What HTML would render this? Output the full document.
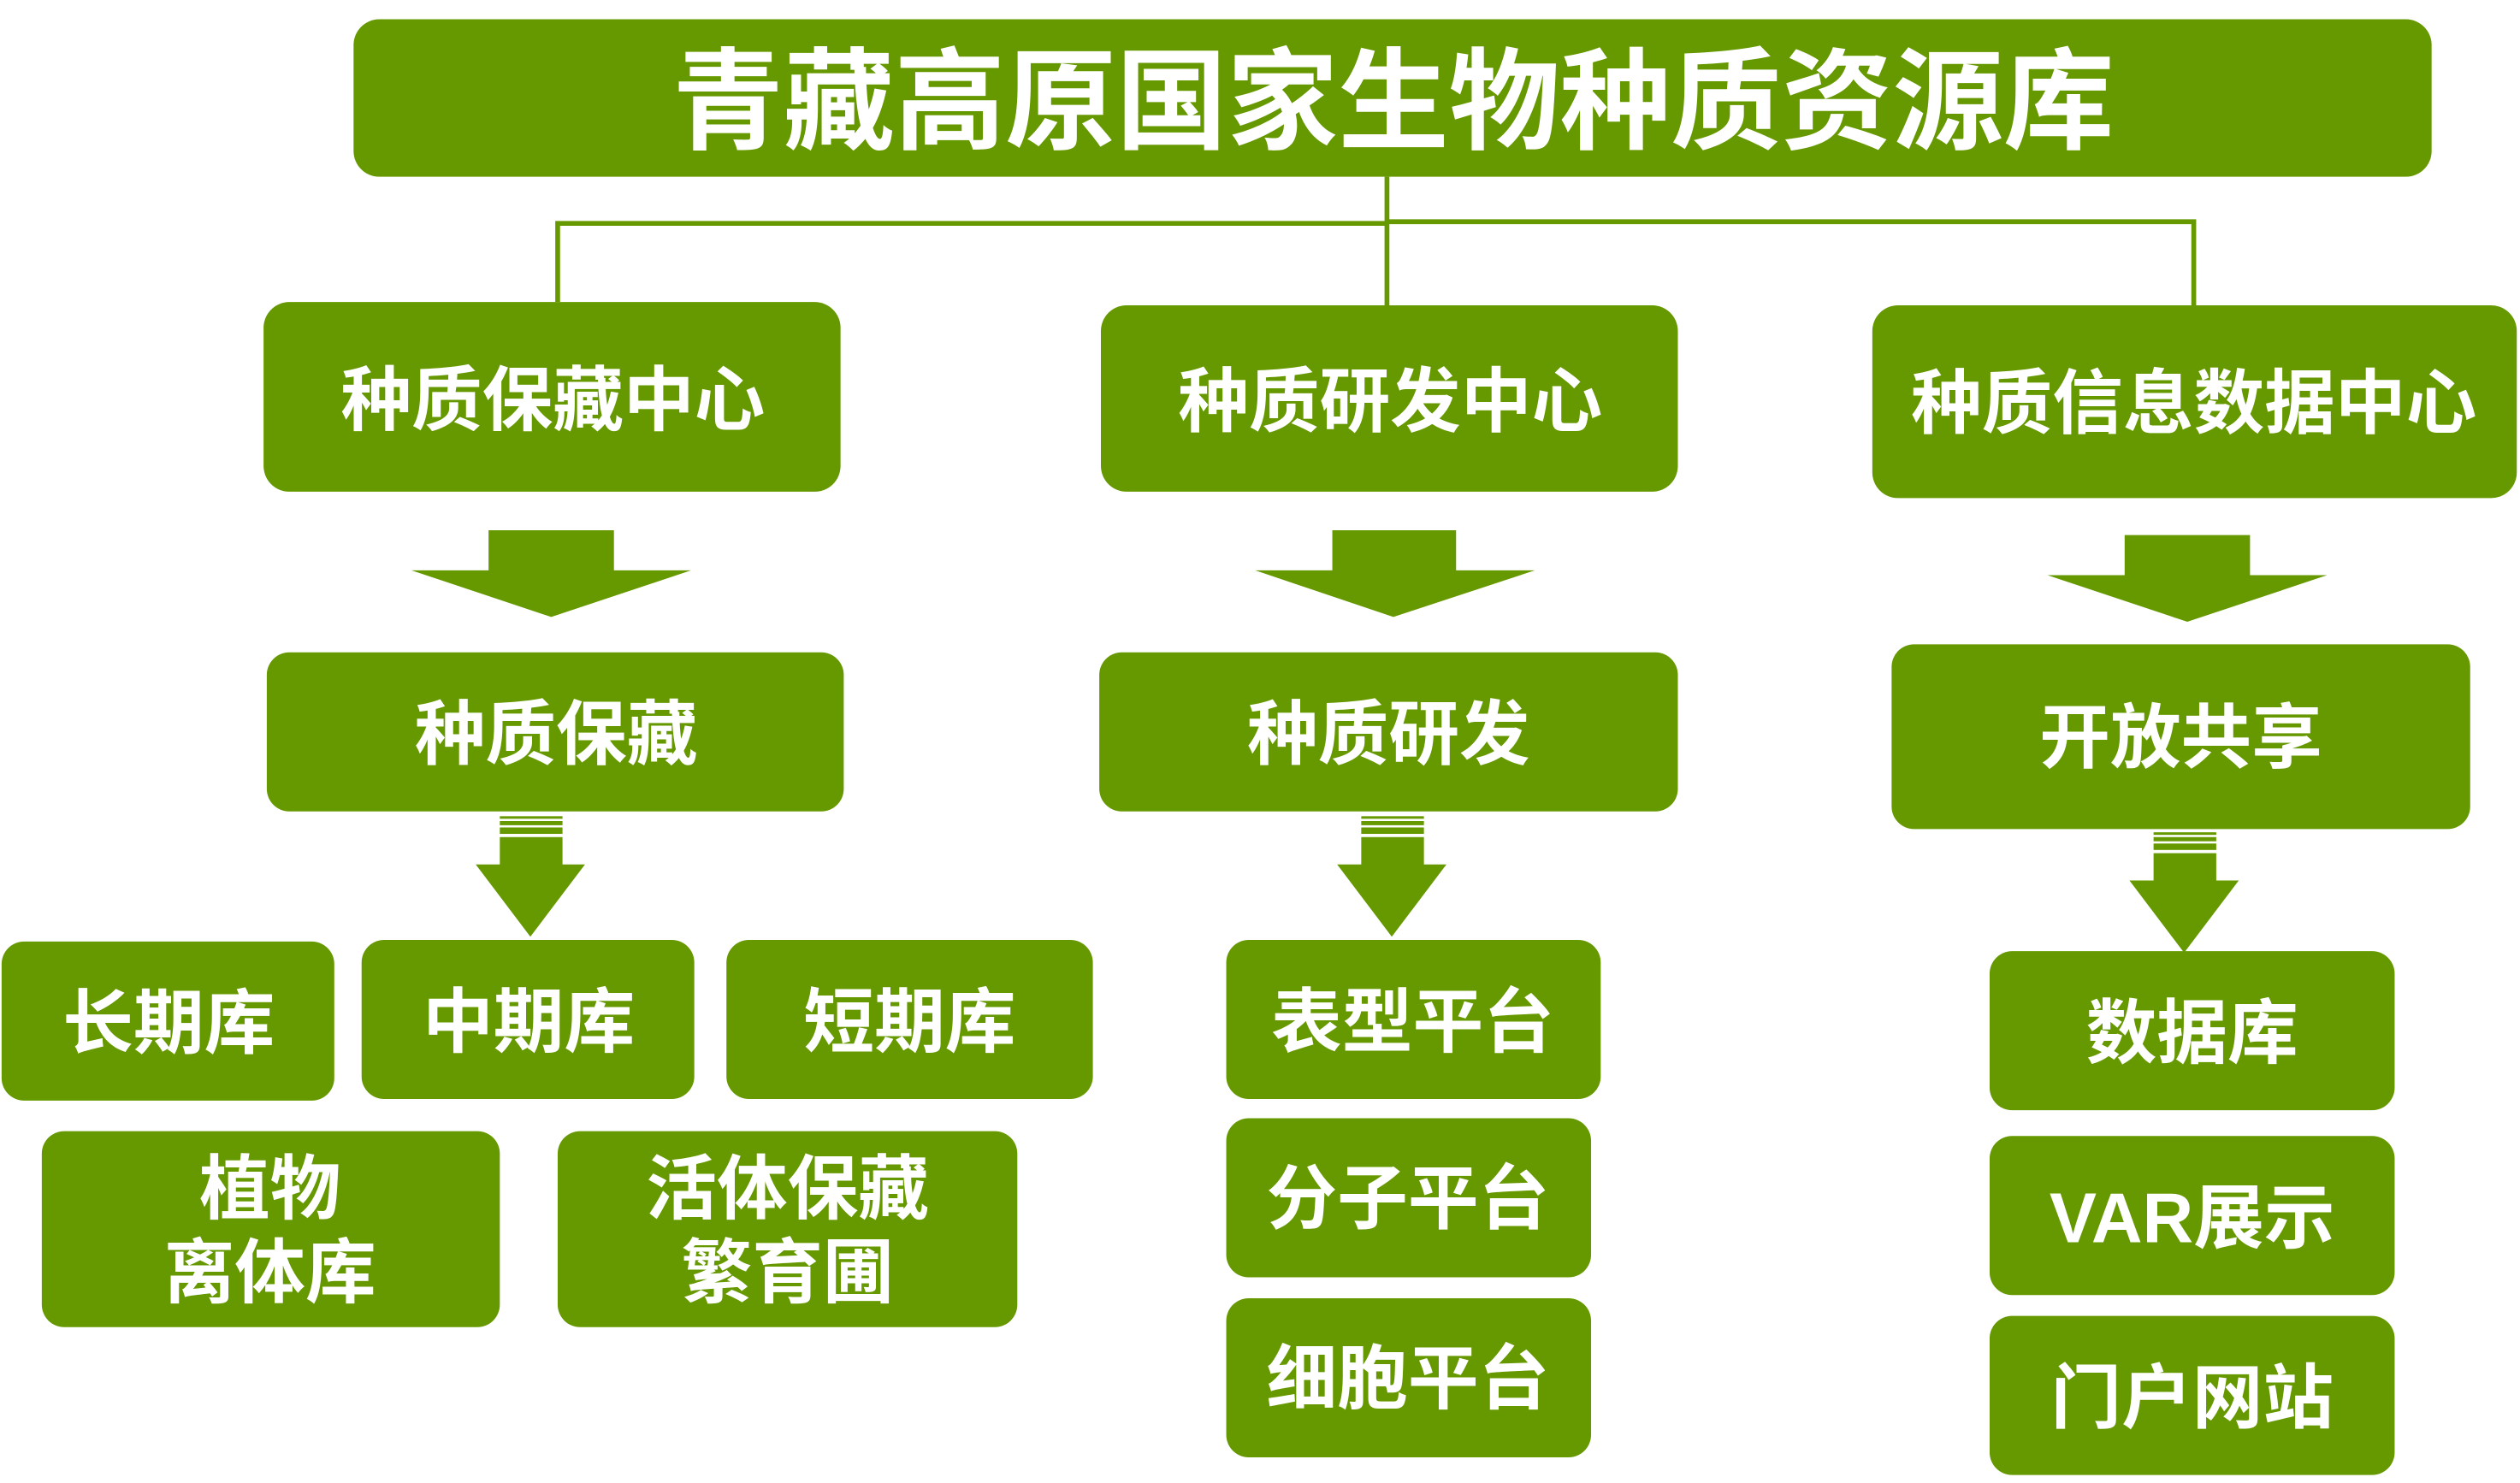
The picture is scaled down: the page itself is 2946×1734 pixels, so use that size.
<!DOCTYPE html>
<html><head><meta charset="utf-8"><style>html,body{margin:0;padding:0;background:#fff}svg{display:block}text{font-family:"Liberation Sans","Noto Sans CJK SC",sans-serif;font-weight:bold;fill:#fff;text-anchor:middle;dominant-baseline:central}</style></head>
<body>
<svg width="2946" height="1734" viewBox="0 0 1568 923" preserveAspectRatio="none" xmlns="http://www.w3.org/2000/svg">
<g fill="#669900">
<rect x="220" y="12" width="1293" height="98" rx="16"/>
<rect x="164" y="188" width="359" height="118" rx="16"/>
<rect x="685" y="190" width="359" height="116" rx="16"/>
<rect x="1165" y="190" width="401" height="120" rx="16"/>
<rect x="166" y="406" width="359" height="99" rx="14"/>
<rect x="684" y="406" width="360" height="99" rx="14"/>
<rect x="1177" y="401" width="360" height="115" rx="14"/>
<rect x="1" y="586" width="207" height="99" rx="14"/>
<rect x="225" y="585" width="207" height="99" rx="14"/>
<rect x="452" y="585" width="228" height="99" rx="14"/>
<rect x="26" y="704" width="285" height="122" rx="14"/>
<rect x="347" y="704" width="286" height="122" rx="14"/>
<rect x="763" y="585" width="233" height="99" rx="14"/>
<rect x="763" y="696" width="227" height="99" rx="14"/>
<rect x="763" y="808" width="227" height="99" rx="14"/>
<rect x="1238" y="592" width="252" height="99" rx="14"/>
<rect x="1238" y="707" width="252" height="99" rx="14"/>
<rect x="1238" y="819" width="252" height="99" rx="14"/>
<polygon points="304,330 382,330 382,355 430,355 343,384 256,355 304,355"/>
<polygon points="829,330 906,330 906,355 955,355 867,384 781,355 829,355"/>
<polygon points="1322,333 1400,333 1400,358 1448,358 1361,387 1274,358 1322,358"/>
<g id="sa">
<rect x="311" y="508" width="39" height="1.6"/>
<rect x="311" y="511" width="39" height="2.6"/>
<rect x="311" y="515" width="39" height="4"/>
<rect x="311" y="521" width="39" height="18"/>
<polygon points="296,538 364,538 330,583"/>
</g>
<use href="#sa" x="536" y="0"/>
<use href="#sa" x="1029" y="10"/>
</g>
<g fill="none" stroke="#669900" stroke-width="3">
<line x1="863" y1="110" x2="863" y2="191"/>
<polyline points="347,188 347,139 863,139"/>
<polyline points="863,138 1365,138 1365,191"/>
</g>
<text x="867" y="64" font-size="69">青藏高原国家生物种质资源库</text>
<text x="344" y="249" font-size="44">种质保藏中心</text>
<text x="865" y="250" font-size="44">种质研发中心</text>
<text x="1365" y="251" font-size="44">种质信息数据中心</text>
<text x="346" y="457" font-size="44">种质保藏</text>
<text x="864" y="457" font-size="44">种质研发</text>
<text x="1357" y="459" font-size="44">开放共享</text>
<text x="105" y="637" font-size="44">长期库</text>
<text x="329" y="636" font-size="44">中期库</text>
<text x="566" y="636" font-size="44">短期库</text>
<text x="168" y="740" font-size="44">植物</text>
<text x="168" y="792" font-size="44">离体库</text>
<text x="490" y="740" font-size="44">活体保藏</text>
<text x="490" y="792" font-size="44">繁育圃</text>
<text x="879" y="636" font-size="44">表型平台</text>
<text x="876" y="746" font-size="44">分子平台</text>
<text x="876" y="858" font-size="44">细胞平台</text>
<text x="1364" y="643" font-size="44">数据库</text>
<text x="1364" y="758" font-size="44">VAR展示</text>
<text x="1364" y="870" font-size="44">门户网站</text>
</svg>
</body></html>
